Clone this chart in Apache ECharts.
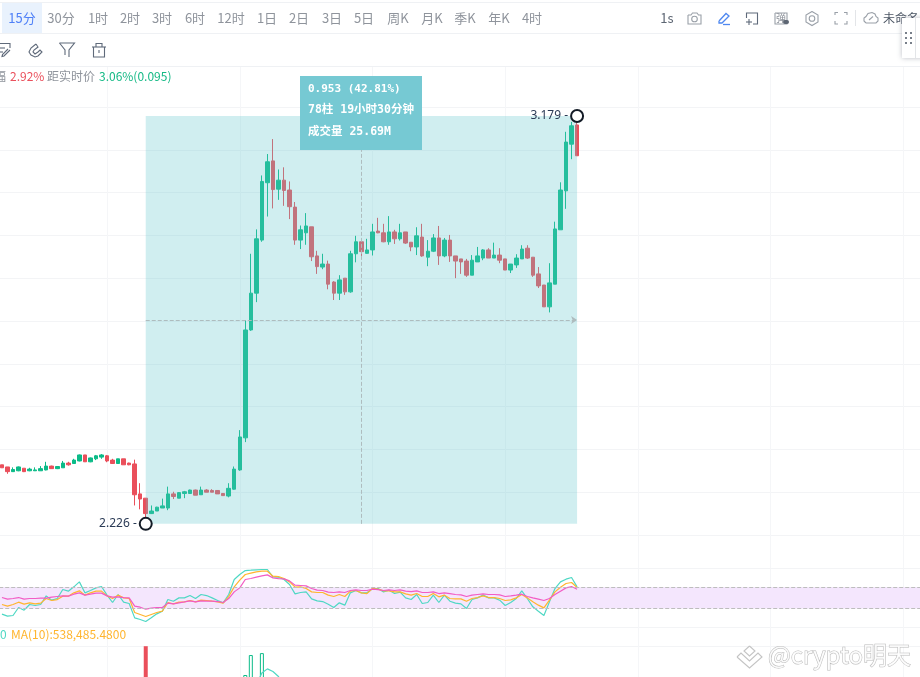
<!DOCTYPE html>
<html>
<head>
<meta charset="utf-8">
<title>15分 K线</title>
<style>
html, body { margin: 0; padding: 0; background: #fff; }
#chart { width: 920px; height: 677px; }
</style>
<script src="https://cdn.jsdelivr.net/npm/echarts@6/dist/echarts.min.js"></script>
</head>
<body>
<div id="chart"></div>
<script>
var opens = [2.364,2.359,2.348,2.350,2.356,2.350,2.350,2.350,2.352,2.361,2.355,2.357,2.368,2.367,2.373,2.387,2.371,2.378,2.382,2.385,2.375,2.367,2.378,2.368,2.366,2.296,2.286,2.250,2.256,2.263,2.263,2.296,2.286,2.297,2.297,2.305,2.294,2.305,2.304,2.304,2.297,2.291,2.307,2.352,2.427,2.679,2.765,2.889,3.023,3.074,3.008,3.029,3.006,2.966,2.889,2.906,2.920,2.852,2.826,2.833,2.791,2.765,2.800,2.768,2.857,2.885,2.858,2.866,2.910,2.906,2.885,2.908,2.892,2.908,2.884,2.873,2.896,2.849,2.863,2.894,2.852,2.889,2.852,2.845,2.840,2.807,2.838,2.847,2.866,2.847,2.854,2.845,2.819,2.831,2.845,2.870,2.849,2.810,2.784,2.733,2.786,2.913,3.004,3.113,3.158];
var closes = [2.357,2.348,2.353,2.359,2.348,2.354,2.352,2.355,2.361,2.355,2.360,2.368,2.364,2.375,2.387,2.371,2.380,2.385,2.387,2.373,2.367,2.378,2.364,2.364,2.294,2.284,2.250,2.256,2.265,2.268,2.296,2.290,2.299,2.301,2.305,2.293,2.305,2.300,2.300,2.296,2.292,2.309,2.354,2.429,2.679,2.765,2.892,3.026,3.072,3.007,3.029,3.005,2.967,2.889,2.913,2.922,2.850,2.827,2.833,2.786,2.765,2.796,2.768,2.857,2.885,2.862,2.866,2.908,2.906,2.885,2.908,2.892,2.906,2.882,2.873,2.899,2.852,2.863,2.894,2.852,2.889,2.852,2.840,2.838,2.807,2.842,2.852,2.866,2.847,2.854,2.842,2.819,2.833,2.847,2.868,2.847,2.807,2.782,2.733,2.789,2.915,3.006,3.118,3.156,3.086];
var lows = [2.357,2.343,2.348,2.349,2.347,2.349,2.350,2.350,2.351,2.355,2.354,2.357,2.362,2.367,2.372,2.371,2.370,2.375,2.378,2.370,2.366,2.367,2.364,2.363,2.269,2.260,2.226,2.249,2.256,2.263,2.258,2.284,2.286,2.286,2.297,2.293,2.294,2.300,2.300,2.296,2.292,2.288,2.306,2.350,2.417,2.677,2.744,2.885,2.944,2.963,2.983,2.969,2.938,2.878,2.868,2.878,2.840,2.810,2.821,2.774,2.749,2.749,2.761,2.766,2.837,2.850,2.857,2.853,2.905,2.884,2.878,2.880,2.888,2.880,2.863,2.854,2.850,2.828,2.861,2.831,2.849,2.838,2.800,2.810,2.803,2.807,2.838,2.842,2.847,2.847,2.835,2.819,2.812,2.824,2.845,2.845,2.803,2.777,2.733,2.720,2.786,2.913,2.962,3.078,3.086];
var highs = [2.364,2.359,2.358,2.360,2.356,2.357,2.358,2.361,2.371,2.362,2.361,2.373,2.371,2.378,2.388,2.387,2.381,2.387,2.389,2.387,2.378,2.378,2.378,2.369,2.376,2.321,2.286,2.269,2.266,2.285,2.313,2.301,2.300,2.303,2.306,2.306,2.313,2.307,2.307,2.305,2.298,2.321,2.360,2.445,2.702,2.857,2.914,3.040,3.090,3.125,3.054,3.059,3.026,2.978,2.923,2.952,2.920,2.864,2.857,2.841,2.793,2.807,2.800,2.864,2.899,2.885,2.892,2.927,2.941,2.927,2.945,2.913,2.927,2.908,2.884,2.919,2.927,2.889,2.903,2.922,2.894,2.901,2.852,2.845,2.845,2.854,2.873,2.868,2.870,2.883,2.870,2.845,2.833,2.856,2.877,2.877,2.849,2.826,2.784,2.835,2.932,3.024,3.142,3.165,3.179];

var lineFast = [19.5,15.8,17.0,31.8,26.9,37.4,35.5,37.4,53.4,45.4,48.5,65.1,62.1,70.1,79.3,59.0,63.3,68.2,70.7,54.7,41.1,55.9,41.7,39.2,12.7,9.6,5.9,12.7,20.1,25.0,46.6,43.5,49.7,49.7,54.0,48.5,55.9,54.0,49.7,44.8,40.5,55.9,83.7,92.9,100.3,100.9,101.6,102.2,102.2,88.6,88.0,83.7,74.4,57.1,59.6,60.8,47.9,44.2,42.9,38.0,31.8,40.5,36.2,59.0,63.3,59.0,59.0,66.4,67.0,60.8,63.9,57.7,60.2,49.7,46.6,55.9,39.2,41.1,54.7,41.1,54.7,43.5,39.9,38.6,30.0,46.6,49.7,54.7,49.7,49.7,45.4,35.5,41.1,48.5,62.7,48.5,33.1,25.0,17.0,42.3,67.0,79.3,84.3,87.4,70.1];
var lineMid = [37.4,34.3,37.4,41.7,38.0,40.5,38.6,39.9,48.5,44.8,46.6,52.8,52.8,59.0,62.7,54.7,59.0,62.1,62.1,53.4,48.5,54.7,49.7,48.5,22.6,18.9,15.2,18.9,22.6,25.0,41.1,38.6,41.7,42.3,44.8,42.3,45.4,44.8,43.5,42.3,39.9,52.2,70.1,82.4,92.9,95.4,97.9,99.1,99.1,89.8,89.2,85.5,79.3,69.5,70.1,67.0,60.8,59.6,59.6,54.7,52.2,55.9,52.2,62.1,63.3,59.0,57.7,67.0,65.8,62.7,62.7,60.8,60.8,57.1,54.7,57.7,52.2,52.2,57.7,51.6,54.7,48.5,47.9,47.9,43.5,48.5,50.3,53.4,50.3,50.3,48.5,44.8,46.0,49.7,55.9,49.7,42.3,36.2,31.2,45.4,60.8,69.5,76.3,78.1,68.9];
var lineSlow = [50.3,47.3,48.5,50.3,47.3,48.5,48.5,49.1,49.1,51.0,52.2,53.4,52.8,56.5,59.0,54.7,56.5,58.4,58.4,53.4,51.0,51.6,50.3,49.7,34.3,32.4,28.7,30.6,31.8,31.8,39.9,38.6,40.5,42.3,44.2,42.3,44.2,43.5,43.5,42.9,41.1,48.5,60.8,68.2,83.7,85.5,88.0,90.4,92.3,86.7,85.5,84.9,81.2,73.2,72.6,71.9,67.0,63.9,63.3,60.2,59.6,60.8,59.6,63.3,64.5,63.3,63.3,65.8,65.1,63.3,64.5,63.3,64.5,62.1,61.4,62.7,59.6,59.6,60.8,57.7,59.0,57.7,55.9,55.3,52.2,54.7,55.9,57.1,55.9,55.9,55.3,52.2,53.4,54.7,56.5,52.2,49.7,47.3,44.8,48.5,55.9,62.1,68.2,70.7,65.8];

// 成交量（百万）
var volumes = [.12,.14,.08,.1,.11,.07,.06,.08,.13,.1,.07,.12,.09,.14,.18,.16,.1,.11,.09,.15,.12,.1,.13,.09,1.05,.85,2.0,.42,.3,.28,.52,.26,.3,.22,.2,.24,.22,.15,.14,.18,.16,.48,.95,.88,1.25,1.77,1.1,1.82,1.05,1.15,.62,.7,.55,.74,.4,.38,.52,.36,.24,.42,.3,.28,.24,.5,.34,.22,.2,.32,.18,.2,.22,.17,.15,.18,.12,.2,.26,.17,.16,.24,.15,.2,.16,.12,.18,.15,.13,.12,.11,.1,.12,.14,.09,.1,.12,.13,.2,.22,.3,.4,.85,.9,1.1,.6,.45];
var volMaFirst = 45;
var volMa = [.8,1.0,1.3,1.41,1.34,1.21,1.0,.85];

var bandLow = 30;
var bandHigh = 70;
var firstIdx = 26;
var lastIdx = 104;
var lowPrice = 2.226;
var highPrice = 3.179;
var midPrice = 2.7025;
var midIdx = 65;

var tabs = ['15分','30分','1时','2时','3时','6时','12时','1日','2日','3日','5日','周K','月K','季K','年K','4时'];
var tabCenters = [22,61,98,130,162,195,231,267,299,332,364,398,432,465,499,532];

var GREEN = '#0bbb88';
var RED = '#ea4f5b';
var ICON_GRAY = '#9aa0a8';
var ICON_DARK = '#5f6a7a';

var categories = [];
for (var c = 0; c < 167; c++) {
    categories.push(String(c));
}

var candles = [];
var bars = [];
for (var i = 0; i < opens.length; i++) {
    candles.push([opens[i], closes[i], lows[i], highs[i]]);
    var up = closes[i] >= opens[i];
    bars.push({
        value: volumes[i],
        itemStyle: up ? {color: '#fff', borderColor: GREEN, borderWidth: 1} : {color: RED}
    });
}

var volMaData = [];
for (var m = 0; m < volMa.length; m++) {
    volMaData.push([String(volMaFirst + m), volMa[m]]);
}

function gridAxisX(idx) {
    return {
        type: 'category',
        gridIndex: idx,
        data: categories,
        axisLine: {show: false},
        axisTick: {show: false},
        axisLabel: {show: false},
        splitLine: {
            show: true,
            alignWithLabel: true,
            interval: function (n) { return n % 24 === 19; },
            lineStyle: {color: '#f5f6f8', width: 1}
        }
    };
}

function txt(s, x, y, color, size, align, extra) {
    var style = {
        text: s,
        x: x,
        y: y,
        fill: color,
        font: (size || 13) + 'px "Noto Sans CJK SC", "Noto Sans", sans-serif',
        textAlign: align || 'center',
        textVerticalAlign: 'middle'
    };
    for (var k in extra) {
        style[k] = extra[k];
    }
    return {type: 'text', z: 60, silent: true, style: style};
}

function boxLine(s, y, size) {
    return {
        type: 'text', z: 60, silent: true,
        style: {
            text: s, x: 308, y: y, fill: '#fff',
            font: 'bold ' + size + 'px "DejaVu Sans Mono", "Noto Sans CJK SC", monospace',
            textVerticalAlign: 'middle'
        }
    };
}

function hline(y, color) {
    return {type: 'line', z: 1, silent: true, shape: {x1: 0, y1: y, x2: 920, y2: y}, style: {stroke: color, lineWidth: 1}};
}

function poly(points, color, width) {
    return {
        type: 'polyline', z: 60, silent: true,
        shape: {points: points},
        style: {fill: 'none', stroke: color, lineWidth: width || 1.1}
    };
}

function ring(cx, cy, r, color) {
    return {type: 'circle', z: 60, silent: true, shape: {cx: cx, cy: cy, r: r}, style: {fill: 'none', stroke: color, lineWidth: 1.1}};
}

var graphics = [
    hline(2.5, '#eff1f4'),
    hline(33.5, '#eff1f4'),
    hline(66.5, '#eff1f4'),
    {type: 'rect', z: 50, silent: true, shape: {x: 2, y: 3, width: 40, height: 30}, style: {fill: '#e9f2fd'}}
];

for (var t = 0; t < tabs.length; t++) {
    graphics.push(txt(tabs[t], tabCenters[t], 18, t === 0 ? '#4f80f7' : '#8f949c', 13));
}

// 顶部工具栏图标
graphics.push(
    txt('1s', 667, 18, '#5d6673', 13),
    poly([[688,15],[691,15],[692.5,13],[697,13],[698.5,15],[701,15],[701,24],[688,24],[688,15]], ICON_GRAY),
    ring(694.5, 19, 2.8, ICON_GRAY),
    poly([[719,21],[726,13.5],[729,16],[722,23],[719,23],[719,21]], '#4f88f0', 1.3),
    poly([[723,24.5],[730,24.5]], '#4f88f0', 1.3),
    poly([[746.5,18],[746.5,13],[757.5,13],[757.5,24],[753,24]], ICON_DARK),
    poly([[746,22],[752,22]], ICON_DARK),
    poly([[749,19],[749,25]], ICON_DARK),
    poly([[775,13],[787,13],[787,24],[775,24],[775,13]], ICON_GRAY),
    txt('弹', 781, 18, '#8f949c', 10),
    {type: 'rect', z: 61, silent: true, shape: {x: 783, y: 20, width: 6, height: 4, r: 2}, style: {fill: '#5d6673'}},
    poly([[812,11.5],[818,15],[818,22],[812,25.5],[806,22],[806,15],[812,11.5]], ICON_GRAY),
    ring(812, 18.5, 2.8, ICON_GRAY),
    poly([[835,15],[835,12.5],[838,12.5]], ICON_GRAY),
    poly([[844,12.5],[847,12.5],[847,15]], ICON_GRAY),
    poly([[847,21],[847,24],[844,24]], ICON_GRAY),
    poly([[838,24],[835,24],[835,21]], ICON_GRAY),
    {type: 'line', z: 60, silent: true, shape: {x1: 855.5, y1: 10, x2: 855.5, y2: 26}, style: {stroke: '#e3e5e8', lineWidth: 1}},
    poly([[866,23],[864,21],[864,18],[866,16.5],[868,13.5],[872,12.5],[875,14],[876,16.5],[878,18],[878,21],[876,23],[866,23]], ICON_GRAY),
    poly([[869,20],[873,16.5]], ICON_GRAY),
    txt('未命名', 883, 18, '#4b5563', 12, 'left'),
    {
        type: 'rect', z: 70, silent: true,
        shape: {x: 902, y: 18, width: 24, height: 40},
        style: {fill: '#fff', shadowBlur: 5, shadowColor: 'rgba(60,70,90,.35)'}
    },
    {type: 'line', z: 71, silent: true, shape: {x1: 915.5, y1: 18, x2: 915.5, y2: 58}, style: {stroke: '#e3e5e8', lineWidth: 1}}
);

var dotRows = [33, 38, 43];
for (var d = 0; d < dotRows.length; d++) {
    graphics.push(
        {type: 'circle', z: 71, silent: true, shape: {cx: 906, cy: dotRows[d], r: 1}, style: {fill: '#4b5563'}},
        {type: 'circle', z: 71, silent: true, shape: {cx: 911, cy: dotRows[d], r: 1}, style: {fill: '#4b5563'}}
    );
}

// 第二行绘图工具图标和信息行
graphics.push(
    poly([[-2,43.5],[10,43.5],[10,48]], ICON_DARK),
    poly([[0,48],[5,48]], ICON_DARK),
    poly([[0,52],[3,52]], ICON_DARK),
    poly([[10,50],[4,56],[2,56.5],[2.5,54.5],[8,49]], ICON_DARK),
    poly([[36,44],[31,48],[29,52],[31,55],[35,57],[38,56],[42,52],[40,50],[38,52],[35,54],[33,52],[34,50],[38,47],[36,44]], ICON_DARK),
    poly([[59.5,43],[74.5,43],[69,50],[69,57]], ICON_DARK),
    poly([[59.5,43],[65,50],[65,55]], ICON_DARK),
    poly([[92,47],[106,47]], ICON_DARK),
    poly([[96,47],[96,43.5],[102,43.5],[102,47]], ICON_DARK),
    poly([[93.5,47],[93.5,57],[104.5,57],[104.5,47]], ICON_DARK),
    poly([[99,50],[99,53]], ICON_DARK),
    txt('幅', 6, 76, '#8f949c', 12, 'right'),
    txt('2.92%', 10, 76, RED, 12, 'left'),
    txt('距实时价', 47, 76, '#8f949c', 12, 'left'),
    txt('3.06%(0.095)', 99, 76, '#14b985', 12, 'left'),
    {type: 'rect', z: 50, silent: true, shape: {x: 300, y: 76, width: 122, height: 74}, style: {fill: '#76c9d3'}},
    boxLine('0.953 (42.81%)', 89, 11),
    boxLine('78柱 19小时30分钟', 110, 11.5),
    boxLine('成交量 25.69M', 132, 11.5),
    txt('0', 0, 634, '#4fd8c4', 12, 'left'),
    txt('MA(10):538,485.4800', 11, 634, '#ffb52e', 12, 'left'),
    poly([[749.5,646],[755,651],[749.5,656],[744,651],[749.5,646]], '#c4c4c4'),
    poly([[737,657],[741,653],[749.5,661],[758,653],[762,657],[749.5,668],[737,657]], '#c4c4c4'),
    txt('@crypto明天', 768, 655, 'rgba(255,255,255,.85)', 24, 'left', {stroke: '#b9b9b9', lineWidth: 1})
);

var option = {
    animation: false,
    backgroundColor: '#fff',
    graphic: graphics,
    grid: [
        {outerBoundsMode: 'none', left: -0.8, width: 923.51, top: 66.3, height: 511.5},
        {outerBoundsMode: 'none', left: -0.8, width: 923.51, top: 568, height: 59.4},
        {outerBoundsMode: 'none', left: -0.8, width: 923.51, top: 627, height: 96}
    ],
    xAxis: [gridAxisX(0), gridAxisX(1), gridAxisX(2)],
    yAxis: [
        {
            type: 'value', gridIndex: 0, min: 2.1, max: 3.295, interval: 0.1,
            axisLine: {show: false}, axisTick: {show: false}, axisLabel: {show: false},
            splitLine: {show: true, showMinLine: false, lineStyle: {color: '#f3f4f6', width: 1}}
        },
        {
            type: 'value', gridIndex: 1, min: -5, max: 105,
            axisLine: {show: false}, axisTick: {show: false}, axisLabel: {show: false},
            splitLine: {show: false}
        },
        {
            type: 'value', gridIndex: 2, min: 0, max: 2.5, interval: 2,
            axisLine: {show: false}, axisTick: {show: false}, axisLabel: {show: false},
            splitLine: {show: true, lineStyle: {color: '#f3f4f6', width: 1}}
        }
    ],
    series: [
        {
            name: 'K线',
            type: 'candlestick',
            xAxisIndex: 0,
            yAxisIndex: 0,
            barWidth: 4,
            data: candles,
            itemStyle: {color: GREEN, color0: RED, borderColor: GREEN, borderColor0: RED, borderWidth: 1},
            markArea: {
                silent: true,
                z: 3,
                itemStyle: {color: 'rgba(98,198,205,0.3)'},
                data: [[
                    {xAxis: String(firstIdx), yAxis: lowPrice},
                    {xAxis: String(lastIdx), yAxis: highPrice}
                ]]
            },
            markLine: {
                silent: true,
                animation: false,
                symbolSize: 6,
                label: {show: false},
                lineStyle: {color: '#aebcbe', type: 'dashed', width: 1},
                data: [
                    [
                        {xAxis: String(firstIdx), yAxis: midPrice, symbol: 'none'},
                        {xAxis: String(lastIdx), yAxis: midPrice, symbol: 'arrow'}
                    ],
                    [
                        {xAxis: String(midIdx), yAxis: lowPrice, symbol: 'none'},
                        {xAxis: String(midIdx), yAxis: highPrice, symbol: 'none'}
                    ]
                ]
            }
        },
        {
            name: '测量',
            type: 'scatter',
            xAxisIndex: 0,
            yAxisIndex: 0,
            z: 10,
            symbolSize: 12,
            itemStyle: {color: '#fff', borderColor: '#131b26', borderWidth: 2, opacity: 1},
            label: {
                show: true,
                position: 'left',
                distance: 2,
                color: '#2a3a55',
                fontSize: 12,
                fontFamily: '"Noto Sans", sans-serif',
                formatter: function (p) { return p.value[1] + ' -'; }
            },
            data: [[String(firstIdx), lowPrice], [String(lastIdx), highPrice]]
        },
        {
            name: 'J',
            type: 'line',
            xAxisIndex: 1,
            yAxisIndex: 1,
            symbol: 'none',
            lineStyle: {color: '#4fd8c4', width: 1.2},
            data: lineFast
        },
        {
            name: 'K',
            type: 'line',
            xAxisIndex: 1,
            yAxisIndex: 1,
            symbol: 'none',
            lineStyle: {color: '#ffb52e', width: 1.2},
            data: lineMid
        },
        {
            name: 'D',
            type: 'line',
            xAxisIndex: 1,
            yAxisIndex: 1,
            symbol: 'none',
            lineStyle: {color: '#f25cc4', width: 1.2},
            data: lineSlow,
            markArea: {
                silent: true,
                itemStyle: {color: '#f4e6fd'},
                data: [[{yAxis: bandLow}, {yAxis: bandHigh}]]
            },
            markLine: {
                silent: true,
                animation: false,
                symbol: 'none',
                label: {show: false},
                lineStyle: {color: '#bdbdbd', type: 'dashed', width: 1},
                data: [
                    {yAxis: bandLow},
                    {yAxis: bandHigh},
                    {yAxis: 105, lineStyle: {color: '#f3f4f6', type: 'solid', width: 1}}
                ]
            }
        },
        {
            name: '成交量',
            type: 'bar',
            xAxisIndex: 2,
            yAxisIndex: 2,
            barWidth: 4,
            data: bars
        },
        {
            name: 'MA(5)',
            type: 'line',
            xAxisIndex: 2,
            yAxisIndex: 2,
            symbol: 'none',
            lineStyle: {color: '#4fd8c4', width: 1.2},
            data: volMaData
        }
    ]
};

var chart = echarts.init(document.getElementById('chart'), null, {renderer: 'canvas'});
chart.setOption(option);
</script>
</body>
</html>
